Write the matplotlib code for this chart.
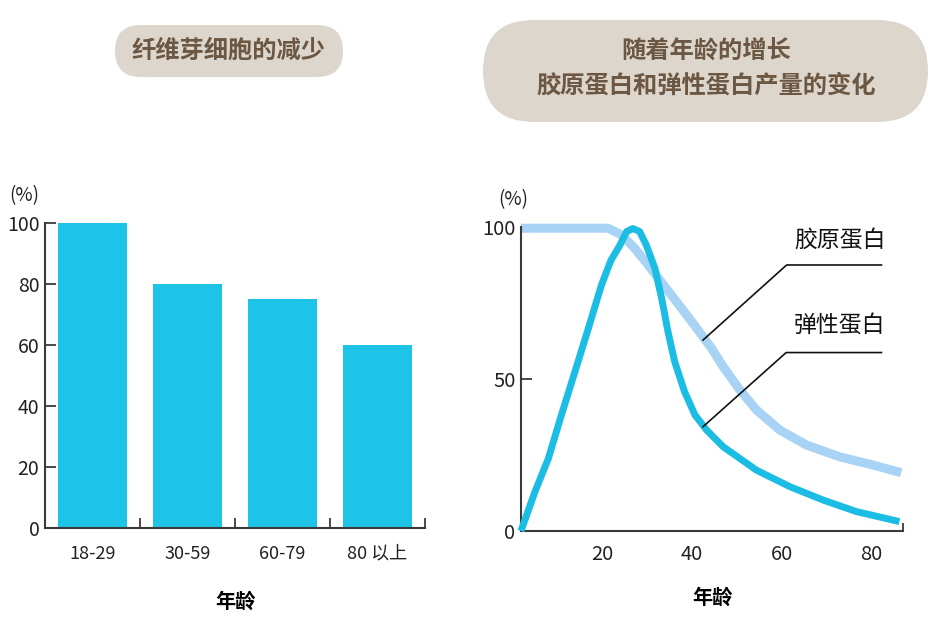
import matplotlib
matplotlib.use("Agg")
import matplotlib.pyplot as plt
from matplotlib.patches import FancyBboxPatch
from matplotlib.transforms import IdentityTransform

plt.rcParams['font.family'] = ['Noto Sans CJK SC', 'DejaVu Sans']

# left chart data
groups = ["18-29", "30-59", "60-79", "80 以上"]
fibro = [100, 80, 75, 60]

# right chart data
col_x = [2, 10, 18, 21.4, 24.4, 27.3, 30.3, 34, 37.7, 41.4, 44.4, 47, 50.7, 54.4, 59.6, 65.5, 72.9, 80.3, 86.6]
col_y = [99.6, 99.6, 99.6, 99.6, 97.4, 93, 87.5, 80.4, 73.3, 66.1, 60.1, 54, 46.4, 39.8, 33.2, 28.3, 24.4, 21.7, 19.2]
ela_x = [2, 5.1, 8.1, 11.0, 14.0, 17.0, 19.9, 22.0, 24.0, 25.5, 26.9, 28.4, 29.9, 31.8, 33.3, 34.7, 36.2, 38.4,
         40.7, 43.3, 47, 54.4, 61.8, 69.2, 76.6, 86.2]
ela_y = [0, 12.9, 23.9, 38.2, 52.4, 66.7, 80.9, 89, 94, 98.5, 99.5, 98.5, 94, 86.4, 76.5, 65.6, 55.7, 45.8,
         38.2, 33.2, 27.7, 20, 14.6, 10.2, 6.4, 3.1]

bar_color = "#1ec4e8"
col_color = "#a8d3f4"
ela_color = "#1cbde4"
axis_color = "#3a3a3a"
title_bg = "#ddd6cc"
title_fg = "#6b5742"

fig = plt.figure(figsize=(9.39, 6.2), dpi=100)

# title pills (pixel coords, origin bottom-left)
H = 620
fig.patches.append(FancyBboxPatch((115, H - 77), 228, 52, boxstyle="round,pad=0,rounding_size=26",
                                  transform=IdentityTransform(), facecolor=title_bg, edgecolor="none"))
fig.patches.append(FancyBboxPatch((483, H - 122), 445, 102, boxstyle="round,pad=0,rounding_size=51",
                                  transform=IdentityTransform(), facecolor=title_bg, edgecolor="none"))
fig.text(229 / 939, 1 - 51 / H, "纤维芽细胞的减少", ha="center", va="center", fontsize=17.5,
         color=title_fg, fontweight="bold")
fig.text(706 / 939, 1 - 52 / H, "随着年龄的增长", ha="center", va="center",
         fontsize=17.5, color=title_fg, fontweight="bold")
fig.text(706 / 939, 1 - 86 / H, "胶原蛋白和弹性蛋白产量的变化", ha="center", va="center",
         fontsize=17.5, color=title_fg, fontweight="bold")

# ---- left: bars
ax1 = fig.add_axes([45 / 939, 92 / H, 380 / 939, 305 / H])
ax1.bar(range(len(groups)), fibro, width=0.72, color=bar_color)
ax1.set_xlim(-0.5, len(groups) - 0.5)
ax1.set_ylim(0, 100)
ax1.set_yticks([0, 20, 40, 60, 80, 100])
ax1.set_xticks(range(len(groups)))
ax1.set_xticklabels(groups)
ax1.set_xticks([i + 0.5 for i in range(len(groups))], minor=True)
ax1.tick_params(axis="x", which="major", length=0, pad=12, labelsize=13, colors="#222222")
ax1.tick_params(axis="x", which="minor", direction="in", length=7, width=1.3, color=axis_color)
ax1.tick_params(axis="y", direction="in", length=8, width=1.3, color=axis_color, pad=4,
                labelsize=14, labelcolor="#222222")
for s in ["top", "right"]:
    ax1.spines[s].set_visible(False)
for s in ["left", "bottom"]:
    ax1.spines[s].set_color(axis_color)
    ax1.spines[s].set_linewidth(1.5)
ax1.text(-0.095, 1.09, "(%)", transform=ax1.transAxes, ha="left", va="center", fontsize=13.5, color="#222222")
ax1.set_xlabel("年龄", fontsize=14.5, fontweight="bold", labelpad=20)

# ---- right: curves
ax2 = fig.add_axes([521 / 939, 89 / H, 382 / 939, 304 / H])
ax2.plot(col_x, col_y, color=col_color, lw=6.5, solid_capstyle="butt", solid_joinstyle="round",
         clip_on=False, zorder=2)
ax2.plot(ela_x, ela_y, color=ela_color, lw=5, solid_capstyle="butt", solid_joinstyle="round",
         clip_on=False, zorder=3)
ax2.set_xlim(2, 87)
ax2.set_ylim(0, 100)
ax2.set_yticks([0, 50, 100])
ax2.set_xticks([20, 40, 60, 80])
ax2.set_xticks([87], minor=True)
ax2.tick_params(axis="x", which="major", length=0, pad=9, labelsize=14.5, colors="#222222")
ax2.tick_params(axis="x", which="minor", direction="in", length=6, width=1.3, color=axis_color)
ax2.tick_params(axis="y", direction="in", length=8, width=1.3, color=axis_color, pad=4,
                labelsize=14.5, labelcolor="#222222")
for s in ["top", "right"]:
    ax2.spines[s].set_visible(False)
for s in ["left", "bottom"]:
    ax2.spines[s].set_color(axis_color)
    ax2.spines[s].set_linewidth(1.5)
ax2.text(-0.06, 1.09, "(%)", transform=ax2.transAxes, ha="left", va="center", fontsize=13.5, color="#222222")
ax2.set_xlabel("年龄", fontsize=14.5, fontweight="bold", labelpad=16)

# leader lines and labels
ax2.plot([42.5, 61.1, 82.2], [62.8, 87.5, 87.5], color="#111111", lw=1.2, clip_on=False, zorder=4)
ax2.plot([42.5, 61.0, 82.2], [34.3, 58.7, 58.7], color="#111111", lw=1.2, clip_on=False, zorder=4)
ax2.text(72.9, 95.7, "胶原蛋白", ha="center", va="center", fontsize=16.5, color="#111111")
ax2.text(72.9, 67.8, "弹性蛋白", ha="center", va="center", fontsize=16.5, color="#111111")

fig.savefig("out.png", dpi=100)
